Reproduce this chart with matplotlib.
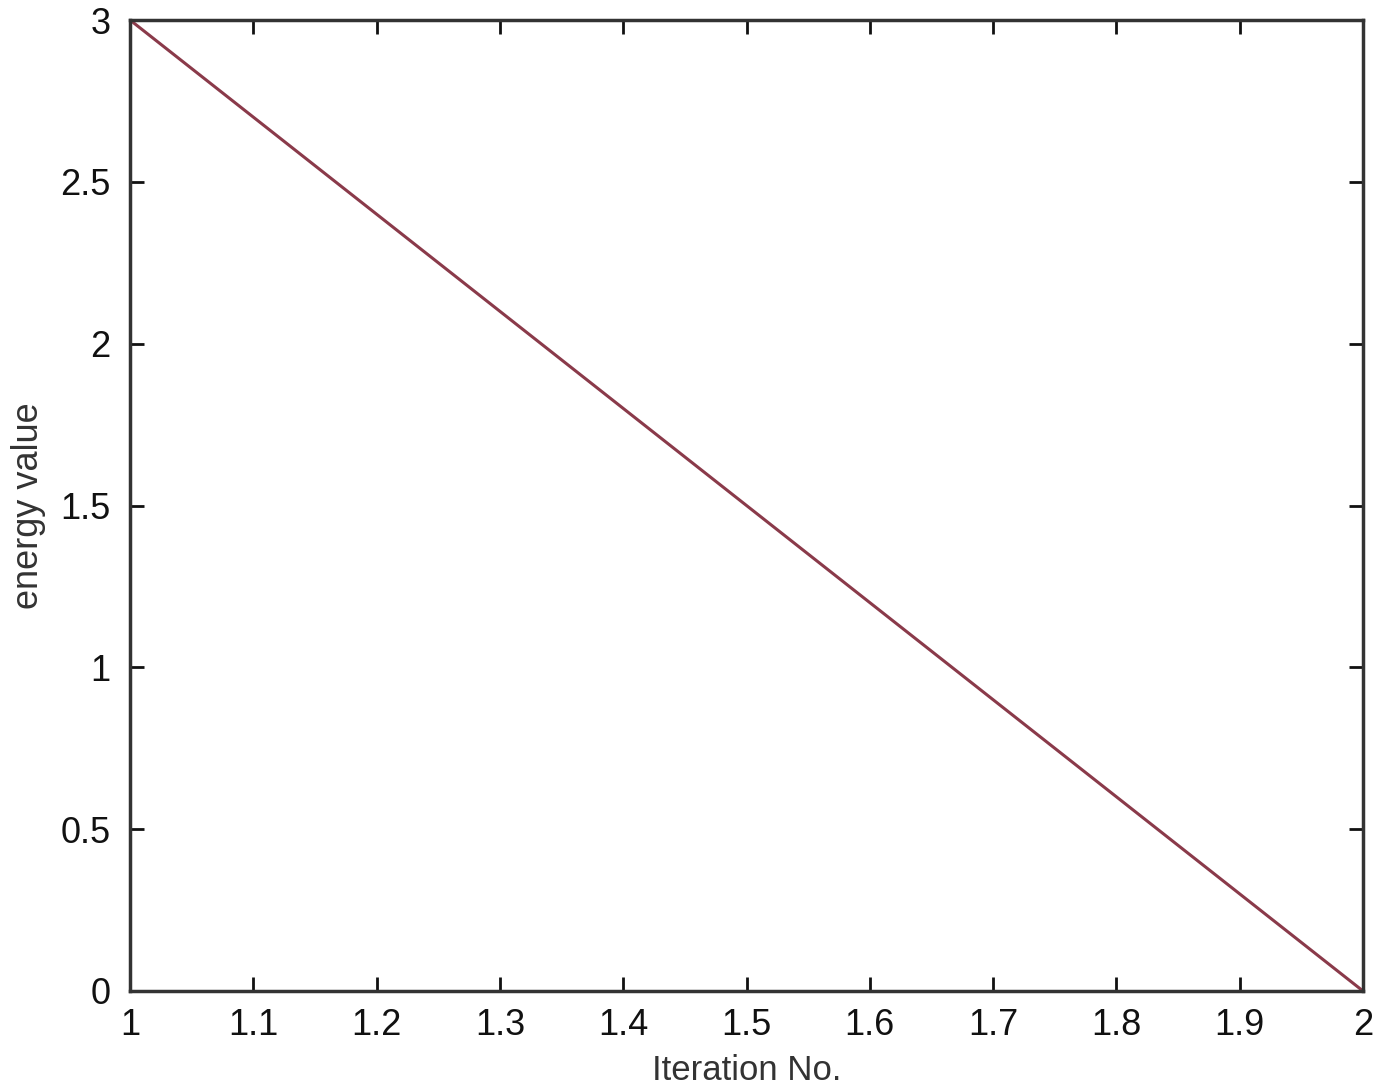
import matplotlib
matplotlib.use("Agg")
import matplotlib.pyplot as plt

iterations = [1, 2]
energy = [3, 0]
x_ticks = [1, 1.1, 1.2, 1.3, 1.4, 1.5, 1.6, 1.7, 1.8, 1.9, 2]
x_tick_labels = ["1", "1.1", "1.2", "1.3", "1.4", "1.5", "1.6", "1.7", "1.8", "1.9", "2"]
y_ticks = [0, 0.5, 1, 1.5, 2, 2.5, 3]
y_tick_labels = ["0", "0.5", "1", "1.5", "2", "2.5", "3"]

plt.rcParams['font.family'] = ['Liberation Sans', 'DejaVu Sans']

fig = plt.figure(figsize=(13.78, 10.9), dpi=100)
ax = fig.add_axes([130/1378, 1 - 991/1090, (1363-130)/1378, (991-20)/1090])
ax.plot(iterations, energy, color='#8a3a4a', linewidth=2.2)
ax.set_xlim(1, 2)
ax.set_ylim(0, 3)
ax.set_xticks(x_ticks)
ax.set_xticklabels(x_tick_labels)
ax.set_yticks(y_ticks)
ax.set_yticklabels(y_tick_labels)
ax.tick_params(direction='in', length=10, width=2, top=True, right=True,
               labelsize=26, colors='#111111', pad=12)
ax.tick_params(axis='y', pad=14)
for s in ax.spines.values():
    s.set_linewidth(2.5)
    s.set_color('#333333')
ax.set_xlabel('Iteration No.', fontsize=25, color='#333333', labelpad=8)
ax.set_ylabel('energy value', fontsize=26, color='#333333', labelpad=10)
fig.savefig('out.png', dpi=100, facecolor='white')
